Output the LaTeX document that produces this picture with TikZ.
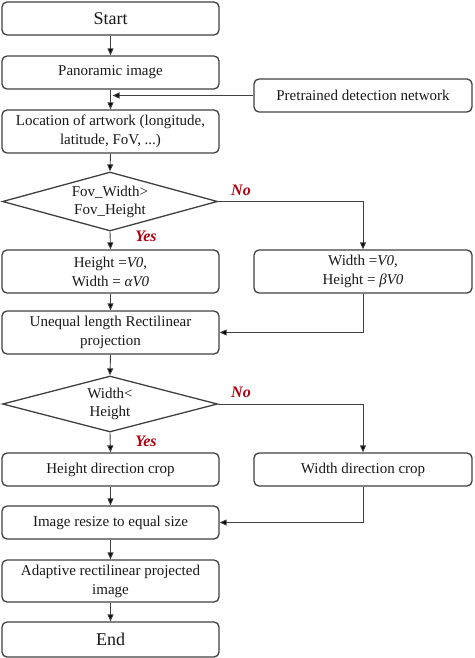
\documentclass[tikz,border=0pt]{standalone}
\usepackage{fontspec}
\setmainfont{Liberation Serif}
\usetikzlibrary{shapes.geometric,arrows.meta}
\definecolor{lbl}{HTML}{B00010}
\definecolor{edge}{HTML}{404040}
\begin{document}
\begin{tikzpicture}[x=1pt,y=-1pt,
  box/.style={draw=edge,line width=1.3pt,rounded corners=5pt,minimum width=217pt,align=center,
    inner sep=0pt,font=\fontsize{15}{19}\selectfont,text=black!90},
  bigbox/.style={box,font=\fontsize{18}{21}\selectfont},
  dec/.style={draw=edge,line width=1.3pt,shape=diamond,aspect=3.64,inner sep=0pt,align=center,
    minimum width=215pt,font=\fontsize{15}{18}\selectfont,text=black!90},
  arr/.style={draw=edge,line width=0.9pt,-{Triangle[length=7pt,width=6pt,fill=black]}},
  yn/.style={text=lbl,font=\fontsize{16}{18}\selectfont\bfseries\itshape}]
\useasboundingbox (0,0) rectangle (474,658);
\node[bigbox,minimum height=33pt] (start) at (110.5,18.5) {Start};
\node[box,minimum height=33pt] (pano) at (110.5,72.5) {Panoramic image};
\node[box,minimum width=218pt,minimum height=33pt] (pre) at (363,95.5) {Pretrained detection network};
\node[box,minimum height=43pt] (loc) at (110.5,131.5) {Location of artwork (longitude,\\latitude, FoV, ...)};
\node[dec,minimum height=59pt] (d1) at (110,201.5) {Fov\_Width>\\Fov\_Height};
\node[box,minimum height=43pt] (hl) at (110.5,271.5) {Height =\textit{V0},\\Width = \textit{αV0}};
\node[box,minimum width=218pt,minimum height=43pt] (wr) at (363,271.5) {Width =\textit{V0},\\Height = \textit{βV0}};
\node[box,minimum height=43pt] (uneq) at (110.5,332.5) {Unequal length Rectilinear\\projection};
\node[dec,minimum height=56pt] (d2) at (110,404) {Width<\\Height};
\node[box,minimum height=33pt] (hc) at (110.5,469.5) {Height direction crop};
\node[box,minimum width=218pt,minimum height=33pt] (wc) at (363,469.5) {Width direction crop};
\node[box,minimum height=33pt] (rs) at (110.5,522.5) {Image resize to equal size};
\node[box,minimum height=42pt] (ad) at (110.5,581) {Adaptive rectilinear projected\\image};
\node[bigbox,minimum height=35pt] (end) at (110.5,639.5) {End};
\coordinate (j1) at ([xshift=2pt]pano.south |- pre.west);
\draw[arr] (start) -- (pano);
\draw[arr] (pano) -- (loc);
\draw[arr] (pre.west) -- (j1);
\draw[arr] (loc.south) -- (d1.north);
\draw[arr] (d1.south) -- (hl.north);
\draw[arr] (d1.east) -| (wr.north);
\draw[arr] (hl) -- (uneq);
\draw[arr] (wr.south) |- (uneq.east);
\draw[arr] (uneq.south) -- (d2.north);
\draw[arr] (d2.south) -- (hc.north);
\draw[arr] (d2.east) -| (wc.north);
\draw[arr] (hc) -- (rs);
\draw[arr] (wc.south) |- (rs.east);
\draw[arr] (rs) -- (ad);
\draw[arr] (ad) -- (end);
\node[yn] (no1) at (241,190) {No};
\node[yn] (yes1) at (146,236) {Yes};
\node[yn] (no2) at (241,392) {No};
\node[yn] (yes2) at (146,441) {Yes};
\end{tikzpicture}
\end{document}
